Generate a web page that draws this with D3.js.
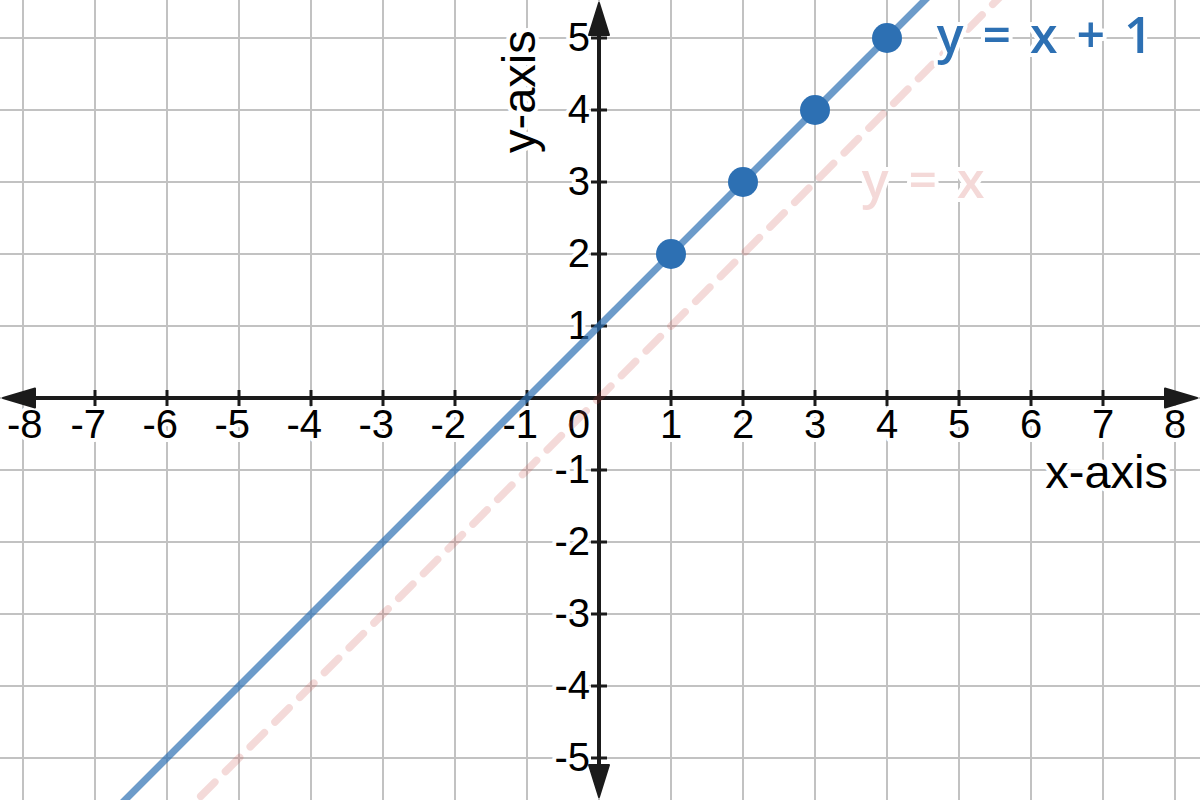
<!DOCTYPE html>
<html>
<head>
<meta charset="utf-8">
<script src="https://cdn.jsdelivr.net/npm/d3@7"></script>
<style>
  html, body { margin: 0; padding: 0; background: #fff; }
  svg { display: block; }
</style>
</head>
<body>
<div id="chart"></div>
<script>
const xTicks = [-8, -7, -6, -5, -4, -3, -2, -1, 0, 1, 2, 3, 4, 5, 6, 7, 8];
const yTicks = [-5, -4, -3, -2, -1, 0, 1, 2, 3, 4, 5];

// points on the shifted line
const pointX = [1, 2, 3, 4];
const pointY = [2, 3, 4, 5];

// two points far outside the view for each line
const lineX = [-10, 10];
const shiftedY = [-9, 11];   // y = x + 1
const identityY = [-10, 10]; // y = x

const labelShifted = "y = x + 1";
const labelIdentity = "y = x";
const xTitle = "x-axis";
const yTitle = "y-axis";

const W = 1200, H = 800;
const BLUE = "#2d70b3";
const RED = "#c74440";
const INK = "#1b1b1b";
const tickFont = "'Liberation Sans', Arial, sans-serif";
const curveFont = "'Open Sans', 'Noto Sans', sans-serif";

const x = d3.scaleLinear().domain([-8, 8]).range([23, 1175]);
const y = d3.scaleLinear().domain([-5, 5]).range([758, 38]);
const x0 = x(0), y0 = y(0);

const svg = d3.select("#chart")
  .append("svg")
  .attr("width", W)
  .attr("height", H);

// grid
svg.append("g")
  .selectAll("line")
  .data(xTicks)
  .join("line")
  .attr("x1", d => x(d)).attr("x2", d => x(d))
  .attr("y1", 0).attr("y2", H)
  .attr("stroke", "#c2c2c2")
  .attr("stroke-width", 2);

svg.append("g")
  .selectAll("line")
  .data(yTicks)
  .join("line")
  .attr("y1", d => y(d)).attr("y2", d => y(d))
  .attr("x1", 0).attr("x2", W)
  .attr("stroke", "#c2c2c2")
  .attr("stroke-width", 2);

function halo(sel, w) {
  return sel
    .attr("stroke", "#fff")
    .attr("stroke-width", w)
    .attr("stroke-linejoin", "round")
    .attr("paint-order", "stroke");
}

// tick labels
const labels = svg.append("g")
  .attr("font-family", tickFont)
  .attr("font-size", 40)
  .attr("fill", "#000");

labels.selectAll("text.xl")
  .data(xTicks.filter(d => d !== 0))
  .join("text")
  .attr("class", "xl")
  .attr("y", y0 + 40)
  .attr("text-anchor", d => d < 0 ? "end" : "middle")
  .text(d => d < 0 ? "-" + Math.abs(d) : d)
  .call(halo, 8)
  .each(function (d) {
    let px = d < 0 ? x(d) + 11 : x(d);
    if (d < 0) {
      const len = this.getComputedTextLength();
      px = Math.max(px, 7 + len);
    }
    d3.select(this).attr("x", px);
  });

labels.selectAll("text.yl")
  .data(yTicks.filter(d => d !== 0))
  .join("text")
  .attr("class", "yl")
  .attr("x", x0 - 9)
  .attr("y", d => y(d) + 13)
  .attr("text-anchor", "end")
  .text(d => d < 0 ? "-" + Math.abs(d) : d)
  .call(halo, 8);

labels.append("text")
  .attr("x", x0 - 9)
  .attr("y", y0 + 40)
  .attr("text-anchor", "end")
  .text("0")
  .call(halo, 8);

// axis titles
svg.append("text")
  .attr("x", 1168)
  .attr("y", y0 + 90)
  .attr("text-anchor", "end")
  .attr("font-family", tickFont)
  .attr("font-size", 47)
  .attr("fill", "#000")
  .text(xTitle)
  .call(halo, 8);

svg.append("text")
  .attr("transform", `translate(${x0 - 64},153) rotate(-90)`)
  .attr("text-anchor", "start")
  .attr("font-family", tickFont)
  .attr("font-size", 47)
  .attr("fill", "#000")
  .text(yTitle)
  .call(halo, 8);

// axes
const axes = svg.append("g").attr("stroke", INK).attr("fill", INK);

axes.append("line")
  .attr("x1", 20).attr("x2", W - 20)
  .attr("y1", y0).attr("y2", y0)
  .attr("stroke-width", 4);

axes.append("line")
  .attr("x1", x0).attr("x2", x0)
  .attr("y1", 20).attr("y2", H - 20)
  .attr("stroke-width", 4);

axes.selectAll("line.xt")
  .data(xTicks.filter(d => d !== 0 && Math.abs(d) < 8))
  .join("line")
  .attr("class", "xt")
  .attr("x1", d => x(d)).attr("x2", d => x(d))
  .attr("y1", y0 - 8).attr("y2", y0 + 8)
  .attr("stroke-width", 3);

axes.selectAll("line.yt")
  .data(yTicks.filter(d => d !== 0))
  .join("line")
  .attr("class", "yt")
  .attr("y1", d => y(d)).attr("y2", d => y(d))
  .attr("x1", x0 - 8).attr("x2", x0 + 8)
  .attr("stroke-width", 3);

// arrow heads
const arrows = [
  [[3, y0], [35, y0 - 9.5], [35, y0 + 9.5]],
  [[W - 3, y0], [W - 35, y0 - 9.5], [W - 35, y0 + 9.5]],
  [[x0, 3], [x0 - 10, 35], [x0 + 10, 35]],
  [[x0, H - 3], [x0 - 10, H - 35], [x0 + 10, H - 35]]
];
axes.selectAll("path.arrow")
  .data(arrows)
  .join("path")
  .attr("class", "arrow")
  .attr("d", d => "M" + d.join("L") + "Z")
  .attr("stroke-width", 2)
  .attr("stroke-linejoin", "round");

// lines
const line = d3.line().x(d => x(d[0])).y(d => y(d[1]));

svg.append("path")
  .datum(lineX.map((v, i) => [v, identityY[i]]))
  .attr("d", line)
  .attr("fill", "none")
  .attr("stroke", RED)
  .attr("stroke-opacity", 0.2)
  .attr("stroke-width", 7.5)
  .attr("stroke-linecap", "round")
  .attr("stroke-dasharray", "20,15");

svg.append("path")
  .datum(lineX.map((v, i) => [v, shiftedY[i]]))
  .attr("d", line)
  .attr("fill", "none")
  .attr("stroke", BLUE)
  .attr("stroke-opacity", 0.7)
  .attr("stroke-width", 7);

svg.append("g")
  .selectAll("circle")
  .data(pointX.map((v, i) => [v, pointY[i]]))
  .join("circle")
  .attr("cx", d => x(d[0]))
  .attr("cy", d => y(d[1]))
  .attr("r", 15)
  .attr("fill", BLUE);

// curve labels
svg.append("text")
  .attr("x", x(4.69))
  .attr("y", y(4.79))
  .attr("font-family", curveFont)
  .attr("font-weight", 600)
  .attr("font-size", 50)
  .attr("word-spacing", 6)
  .attr("fill", BLUE)
  .text(labelShifted)
  .call(halo, 8);

svg.append("text")
  .attr("x", x(3.65))
  .attr("y", y(2.78))
  .attr("font-family", curveFont)
  .attr("font-weight", 600)
  .attr("font-size", 50)
  .attr("word-spacing", 7)
  .attr("fill", "#f4d9d8")
  .text(labelIdentity)
  .call(halo, 8);
</script>
</body>
</html>
